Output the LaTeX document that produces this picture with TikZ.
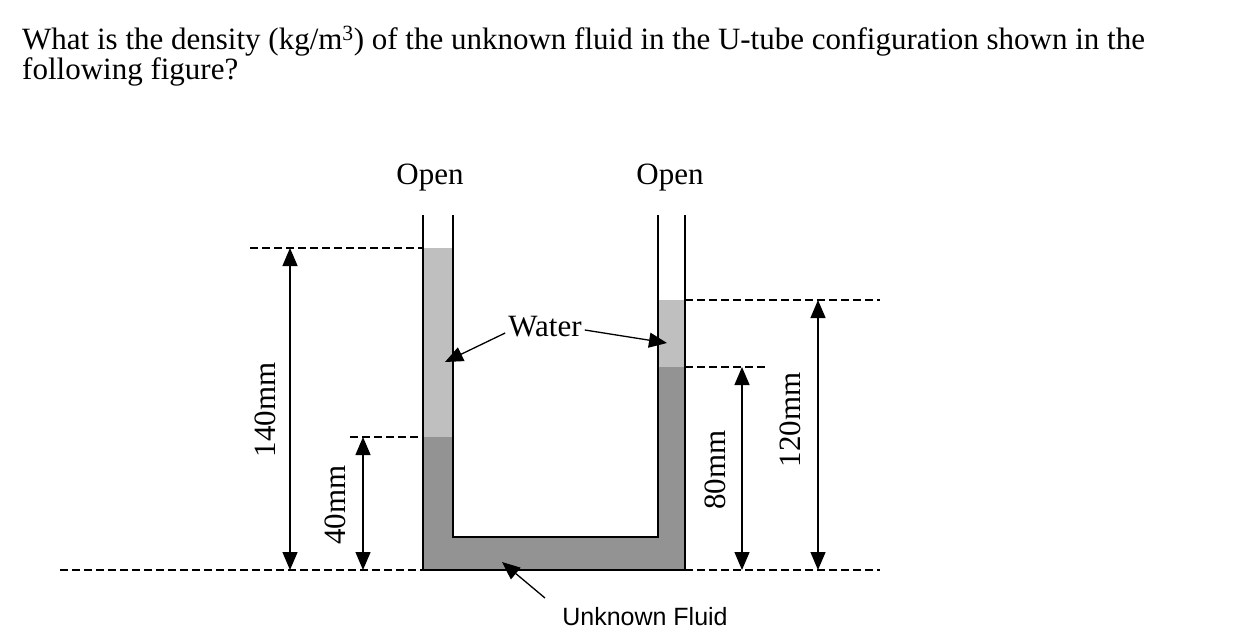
\documentclass[tikz,border=0pt]{standalone}
\usepackage{fontspec}
\setmainfont{Liberation Serif}
\newfontfamily\sansf{Liberation Sans}
\usetikzlibrary{arrows.meta}
\begin{document}
\begin{tikzpicture}[x=1pt,y=-1pt,
  dim/.style={line width=1.3pt,{Triangle[length=18pt,width=15pt]}-{Triangle[length=18pt,width=15pt]}},
  ptr/.style={line width=1.3pt,-{Triangle[length=18pt,width=15pt]}},
  dsh/.style={line width=1.1pt,dash pattern=on 8pt off 4pt},
  wall/.style={line width=1.5pt},
  lbl/.style={font=\fontsize{31}{34}\selectfont,inner sep=0pt}]
\useasboundingbox (0,0) rectangle (1260,632);
\node[lbl,anchor=north west,align=left] (q) at (22,26) {What is the density (kg/m\textsuperscript{3}) of the unknown fluid in the U-tube configuration shown in the\\[-4pt]following figure?};
% fluids
\fill[gray!50] (423,248) rectangle (453,437);
\fill[gray!50] (658,300) rectangle (685,367);
\fill[gray!85] (423,437) -- (453,437) -- (453,537) -- (658,537) -- (658,367) -- (685,367) -- (685,570) -- (423,570) -- cycle;
% walls
\draw[wall] (423,215) -- (423,570) -- (685,570) -- (685,215);
\draw[wall] (453,215) -- (453,537) -- (658,537) -- (658,215);
\node[lbl] (o1) at (430,178) {Open};
\node[lbl] (o2) at (670,178) {Open};
% dashed
\draw[dsh] (250,248) -- (423,248);
\draw[dsh] (350,437) -- (423,437);
\draw[dsh] (60,570) -- (423,570);
\draw[dsh] (685,570) -- (880,570);
\draw[dsh] (685,300) -- (880,300);
\draw[dsh] (685,367) -- (765,367);
% dims
\coordinate (a1) at (290,248); \coordinate (a2) at (290,570);
\draw[dim] (a1) -- (a2);
\node[lbl,rotate=90] (l140) at (265,410) {140mm};
\coordinate (b1) at (363,437); \coordinate (b2) at (363,570);
\draw[dim] (b1) -- (b2);
\node[lbl,rotate=90] (l40) at (335,505) {40mm};
\coordinate (c1) at (742,367); \coordinate (c2) at (742,570);
\draw[dim] (c1) -- (c2);
\node[lbl,rotate=90] (l80) at (715,470) {80mm};
\coordinate (d1) at (818,300); \coordinate (d2) at (818,570);
\draw[dim] (d1) -- (d2);
\node[lbl,rotate=90] (l120) at (790,420) {120mm};
% water
\node[lbl] (w) at (545,327) {Water};
\coordinate (w1) at (445,362); \coordinate (w2) at (667,343);
\draw[ptr] (w.west) ++(-3,6) -- (w1);
\draw[ptr] (w.east) ++(3,3) -- (w2);
\node[inner sep=0pt,font=\sansf\fontsize{25}{28}\selectfont] (u) at (645,617) {Unknown Fluid};
\coordinate (u1) at (502,562);
\draw[ptr] (545,598) -- (u1);
\end{tikzpicture}
\end{document}
